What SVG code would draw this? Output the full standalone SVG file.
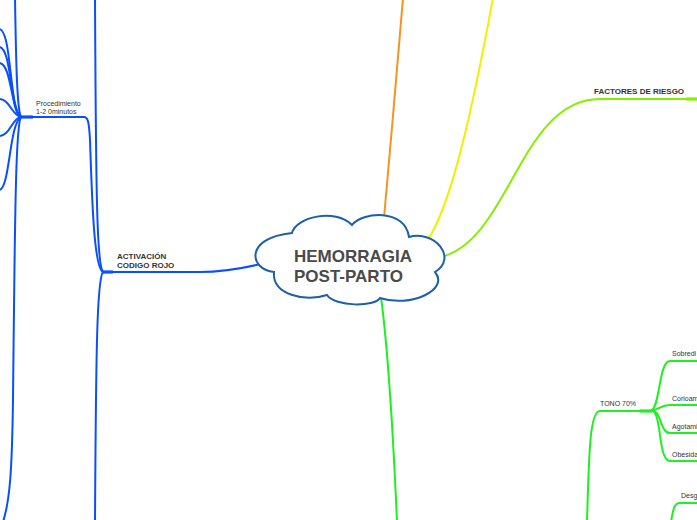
<svg xmlns="http://www.w3.org/2000/svg" width="697" height="520" viewBox="0 0 697 520">
<style>
.c{fill:none;stroke-width:2;stroke-linecap:round}
.b{stroke:#0a4fff}
.g{stroke:#1ff01f}
.lg{stroke:#84f000}
.y{stroke:#f0f000}
.o{stroke:#f7941d}
.stub{fill:none;stroke-width:3.2}
.t{font-family:"Liberation Sans",Arial,sans-serif;font-size:7px;fill:#333}
.tb{font-family:"Liberation Sans",Arial,sans-serif;font-size:8px;font-weight:bold;fill:#333}
.main{font-family:"Liberation Sans",Arial,sans-serif;font-size:17px;font-weight:bold;fill:#4a4a4a}
</style>
<rect width="697" height="520" fill="#fff"/>
<g id="connectors">
  <!-- blue main branch -->
  <path class="c b" d="M104 272 L200 272 C225 272 245 268 265 263"/>
  <path class="c b" d="M103 272 C97 265 96 200 95 -2"/>
  <path class="c b" d="M103 272 C97 280 96 350 95 522"/>
  <path class="c b" d="M35 117 L84 117 C88 117 89 122 90 140 C92 200 94 268 103 272"/>
  <path class="stub b" d="M103 272 L113 272"/>
  <!-- procedimiento hub -->
  <path class="c b" d="M21 117 C17 110 16 60 15 -2"/>
  <path class="c b" d="M21 117 C16 125 15 200 13 400 C12 470 10 500 3 522"/>
  <path class="c b" d="M-1 29 C12 29 9 110 21 117"/>
  <path class="c b" d="M-1 47 C12 47 10 112 21 117"/>
  <path class="c b" d="M-1 63 C12 63 11 113 21 117"/>
  <path class="c b" d="M-1 99 C10 99 12 116 21 117"/>
  <path class="c b" d="M-1 136 C10 136 12 118 21 117"/>
  <path class="c b" d="M-1 190 C10 190 9 124 21 117"/>
  <path class="c b" d="M21 117 L35 117"/>
  <path class="stub b" d="M21 117 L33 117"/>
  <!-- orange / yellow -->
  <path class="c o" d="M384 218 C390 150 398 60 403 -2"/>
  <path class="c y" d="M427 241 C447 212 467 140 493 -2"/>
  <!-- factores de riesgo -->
  <path class="c lg" d="M441 257 C510 240 520 99 600 99 L698 99"/>
  <path class="stub lg" d="M686 99 L698 99"/>
  <!-- green bottom -->
  <path class="c g" d="M381 297 C388 350 393 430 397 522"/>
  <path class="c g" d="M587 522 C589 450 590 411 600 411 L652 411"/>
  <path class="stub g" d="M640 411 L652 411"/>
  <path class="c g" d="M652 410 C660 405 659 361 670 361 L698 361"/>
  <path class="c g" d="M652 410 C660 410 660 405 670 405 L698 405"/>
  <path class="c g" d="M652 410 C662 412 660 433 670 433 L698 433"/>
  <path class="c g" d="M652 410 C662 414 658 461 670 461 L698 461"/>
  <path class="c g" d="M671 522 C673 510 674 503 680 503 L698 503"/>
</g>
<g id="central">
  <path d="M292 233 C296 217 335 208 352 225 C362 212 405 208 409 237 C435 230 458 258 435 272 C450 290 410 308 380 298 C375 307 335 307 327 295 C305 302 272 295 274 272 C250 270 243 238 292 233 Z" fill="#fff" stroke="#1c5fab" stroke-width="2"/>
  <text class="main" x="294" y="262">HEMORRAGIA</text>
  <text class="main" x="294" y="282">POST-PARTO</text>
</g>
<g id="activacion">
  <text class="tb" x="117" y="259">ACTIVACIÓN</text>
  <text class="tb" x="117" y="268">CODIGO ROJO</text>
</g>
<g id="procedimiento">
  <text class="t" x="36" y="106">Procedimiento</text>
  <text class="t" x="36" y="114">1-2 0minutos</text>
</g>
<g id="factores">
  <text class="tb" x="594" y="94">FACTORES DE RIESGO</text>
</g>
<g id="tono">
  <text class="t" x="600" y="406">TONO 70%</text>
</g>
<g id="sobredi"><text class="t" x="672" y="356">Sobredi</text></g>
<g id="corioam"><text class="t" x="672" y="401">Corioam</text></g>
<g id="agotami"><text class="t" x="672" y="429">Agotami</text></g>
<g id="obesida"><text class="t" x="672" y="457">Obesida</text></g>
<g id="desg"><text class="t" x="681" y="498">Desg</text></g>
</svg>
